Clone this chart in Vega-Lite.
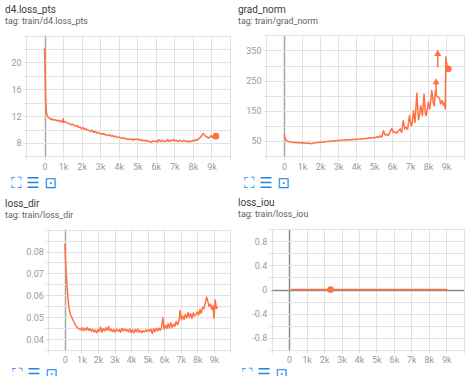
{
  "$schema": "https://vega.github.io/schema/vega-lite/v6.json",
  "background": "white",
  "padding": {"left": 5, "top": 4, "right": 0, "bottom": 0},
  "config": {
    "font": "Roboto",
    "view": {"stroke": null},
    "axis": {"domain": false, "tickColor": "#e2e2e2", "gridColor": "#e2e2e2", "tickSize": 3, "labelColor": "#9a9a9a", "labelFontSize": 9, "labelPadding": 2, "labelOverlap": false, "labelFlush": false},
    "axisX": {"titleFont": "DejaVu Sans", "titleFontSize": 15, "titleColor": "#1e88e5", "titleFontWeight": "normal", "titleAlign": "left", "titleBaseline": "middle", "titleY": 25},
    "title": {"anchor": "start", "frame": "group", "fontSize": 10, "fontWeight": "normal", "color": "#3c3c3c", "subtitleFontSize": 8.8, "subtitleColor": "#616161", "subtitlePadding": 2, "offset": 6, "font": "Roboto", "subtitleFont": "Roboto"},
    "line": {"color": "#ff7043", "strokeWidth": 1.5, "strokeJoin": "round"}
  },
  "datasets": {
    "loss_pts": [
      {"step": 0, "value": 22.2}, {"step": 30, "value": 18.5}, {"step": 60, "value": 14.5}, {"step": 100, "value": 12.6}, {"step": 150, "value": 12.0}, {"step": 200, "value": 11.8}, {"step": 260, "value": 11.7}, {"step": 320, "value": 11.5}, {"step": 400, "value": 11.6}, {"step": 480, "value": 11.4}, {"step": 560, "value": 11.5}, {"step": 640, "value": 11.3}, {"step": 720, "value": 11.4}, {"step": 800, "value": 11.2}, {"step": 880, "value": 11.3}, {"step": 960, "value": 11.1}, {"step": 1000, "value": 11.6}, {"step": 1040, "value": 11.1}, {"step": 1120, "value": 11.2}, {"step": 1200, "value": 11.0}, {"step": 1280, "value": 10.9}, {"step": 1360, "value": 10.9}, {"step": 1440, "value": 10.7}, {"step": 1520, "value": 10.8}, {"step": 1600, "value": 10.6}, {"step": 1680, "value": 10.5}, {"step": 1760, "value": 10.6}, {"step": 1840, "value": 10.3}, {"step": 1920, "value": 10.4}, {"step": 2000, "value": 10.1}, {"step": 2080, "value": 10.3}, {"step": 2160, "value": 10.0}, {"step": 2240, "value": 10.1}, {"step": 2320, "value": 9.9}, {"step": 2400, "value": 9.9}, {"step": 2480, "value": 9.7}, {"step": 2560, "value": 9.9}, {"step": 2640, "value": 9.6}, {"step": 2720, "value": 9.7}, {"step": 2800, "value": 9.5}, {"step": 2880, "value": 9.6}, {"step": 2960, "value": 9.4}, {"step": 3040, "value": 9.4}, {"step": 3120, "value": 9.3}, {"step": 3200, "value": 9.4}, {"step": 3280, "value": 9.2}, {"step": 3360, "value": 9.2}, {"step": 3440, "value": 9.1}, {"step": 3520, "value": 9.2}, {"step": 3600, "value": 9.0}, {"step": 3680, "value": 9.1}, {"step": 3760, "value": 8.9}, {"step": 3840, "value": 9.0}, {"step": 3920, "value": 8.8}, {"step": 4000, "value": 8.9}, {"step": 4080, "value": 8.8}, {"step": 4160, "value": 8.7}, {"step": 4240, "value": 8.8}, {"step": 4320, "value": 8.6}, {"step": 4400, "value": 8.7}, {"step": 4480, "value": 8.5}, {"step": 4560, "value": 8.6}, {"step": 4640, "value": 8.5}, {"step": 4720, "value": 8.6}, {"step": 4800, "value": 8.4}, {"step": 4880, "value": 8.6}, {"step": 4960, "value": 8.5}, {"step": 5040, "value": 8.6}, {"step": 5120, "value": 8.4}, {"step": 5200, "value": 8.5}, {"step": 5280, "value": 8.3}, {"step": 5360, "value": 8.4}, {"step": 5440, "value": 8.3}, {"step": 5520, "value": 8.4}, {"step": 5600, "value": 8.2}, {"step": 5680, "value": 8.2}, {"step": 5760, "value": 8.1}, {"step": 5840, "value": 8.3}, {"step": 5920, "value": 8.2}, {"step": 6000, "value": 8.3}, {"step": 6080, "value": 8.1}, {"step": 6160, "value": 8.5}, {"step": 6240, "value": 8.2}, {"step": 6320, "value": 8.4}, {"step": 6400, "value": 8.2}, {"step": 6480, "value": 8.3}, {"step": 6560, "value": 8.2}, {"step": 6640, "value": 8.5}, {"step": 6720, "value": 8.2}, {"step": 6800, "value": 8.4}, {"step": 6880, "value": 8.3}, {"step": 6960, "value": 8.5}, {"step": 7040, "value": 8.3}, {"step": 7120, "value": 8.4}, {"step": 7200, "value": 8.2}, {"step": 7280, "value": 8.4}, {"step": 7360, "value": 8.3}, {"step": 7440, "value": 8.2}, {"step": 7520, "value": 8.4}, {"step": 7600, "value": 8.2}, {"step": 7680, "value": 8.3}, {"step": 7760, "value": 8.1}, {"step": 7840, "value": 8.3}, {"step": 7920, "value": 8.2}, {"step": 8000, "value": 8.4}, {"step": 8080, "value": 8.3}, {"step": 8160, "value": 8.5}, {"step": 8240, "value": 8.4}, {"step": 8320, "value": 8.7}, {"step": 8400, "value": 8.8}, {"step": 8480, "value": 9.1}, {"step": 8540, "value": 9.4}, {"step": 8600, "value": 9.3}, {"step": 8680, "value": 9.0}, {"step": 8760, "value": 8.9}, {"step": 8840, "value": 8.7}, {"step": 8920, "value": 8.9}, {"step": 8980, "value": 9.1}, {"step": 9050, "value": 8.8}, {"step": 9120, "value": 9.1}, {"step": 9240, "value": 9.0}
    ],
    "loss_pts_end": [{"step": 9240, "value": 9.0}],
    "grad_norm": [
      {"step": 0, "value": 72}, {"step": 40, "value": 63}, {"step": 90, "value": 55}, {"step": 150, "value": 50}, {"step": 250, "value": 48}, {"step": 350, "value": 47}, {"step": 450, "value": 46}, {"step": 550, "value": 45}, {"step": 650, "value": 45}, {"step": 750, "value": 44}, {"step": 850, "value": 44}, {"step": 950, "value": 43}, {"step": 1050, "value": 44}, {"step": 1150, "value": 43}, {"step": 1250, "value": 42}, {"step": 1350, "value": 43}, {"step": 1450, "value": 42}, {"step": 1550, "value": 41}, {"step": 1650, "value": 43}, {"step": 1750, "value": 44}, {"step": 1850, "value": 45}, {"step": 1950, "value": 45}, {"step": 2050, "value": 46}, {"step": 2150, "value": 47}, {"step": 2250, "value": 47}, {"step": 2350, "value": 48}, {"step": 2450, "value": 48}, {"step": 2550, "value": 49}, {"step": 2650, "value": 50}, {"step": 2750, "value": 50}, {"step": 2850, "value": 51}, {"step": 2950, "value": 52}, {"step": 3050, "value": 52}, {"step": 3150, "value": 52}, {"step": 3250, "value": 53}, {"step": 3350, "value": 53}, {"step": 3450, "value": 54}, {"step": 3550, "value": 53}, {"step": 3650, "value": 55}, {"step": 3750, "value": 54}, {"step": 3850, "value": 55}, {"step": 3950, "value": 56}, {"step": 4050, "value": 55}, {"step": 4150, "value": 57}, {"step": 4250, "value": 56}, {"step": 4350, "value": 58}, {"step": 4450, "value": 57}, {"step": 4550, "value": 59}, {"step": 4650, "value": 58}, {"step": 4750, "value": 61}, {"step": 4850, "value": 59}, {"step": 4950, "value": 62}, {"step": 5050, "value": 60}, {"step": 5150, "value": 64}, {"step": 5250, "value": 62}, {"step": 5340, "value": 67}, {"step": 5430, "value": 63}, {"step": 5530, "value": 84}, {"step": 5620, "value": 70}, {"step": 5710, "value": 72}, {"step": 5800, "value": 68}, {"step": 5900, "value": 82}, {"step": 5990, "value": 92}, {"step": 6080, "value": 78}, {"step": 6170, "value": 80}, {"step": 6260, "value": 76}, {"step": 6360, "value": 84}, {"step": 6450, "value": 90}, {"step": 6540, "value": 78}, {"step": 6630, "value": 117}, {"step": 6710, "value": 90}, {"step": 6780, "value": 96}, {"step": 6870, "value": 88}, {"step": 6970, "value": 134}, {"step": 7060, "value": 100}, {"step": 7130, "value": 110}, {"step": 7190, "value": 150}, {"step": 7280, "value": 112}, {"step": 7380, "value": 209}, {"step": 7470, "value": 120}, {"step": 7540, "value": 140}, {"step": 7600, "value": 167}, {"step": 7690, "value": 134}, {"step": 7780, "value": 206}, {"step": 7850, "value": 140}, {"step": 7900, "value": 134}, {"step": 8020, "value": 178}, {"step": 8100, "value": 156}, {"step": 8210, "value": 217}, {"step": 8300, "value": 175}, {"step": 8350, "value": 167}, {"step": 8410, "value": 217}, {"step": 8450, "value": 200}, {"step": 8560, "value": 196}, {"step": 8650, "value": 189}, {"step": 8700, "value": 173}, {"step": 8790, "value": 184}, {"step": 8840, "value": 170}, {"step": 8900, "value": 176}, {"step": 8960, "value": 156}, {"step": 8990, "value": 328}, {"step": 9050, "value": 300}, {"step": 9130, "value": 289}
    ],
    "grad_arrows": [{"step": 8450, "value": 248, "lo": 200}, {"step": 8540, "value": 342, "lo": 294}],
    "grad_end": [{"step": 9130, "value": 289}],
    "loss_dir": [
      {"step": 0, "value": 0.0835}, {"step": 40, "value": 0.076}, {"step": 100, "value": 0.068}, {"step": 160, "value": 0.061}, {"step": 220, "value": 0.056}, {"step": 280, "value": 0.053}, {"step": 350, "value": 0.051}, {"step": 450, "value": 0.0494}, {"step": 550, "value": 0.0478}, {"step": 660, "value": 0.0462}, {"step": 760, "value": 0.0452}, {"step": 860, "value": 0.0446}, {"step": 960, "value": 0.0442}, {"step": 1040, "value": 0.0452}, {"step": 1120, "value": 0.0438}, {"step": 1200, "value": 0.045}, {"step": 1280, "value": 0.0441}, {"step": 1360, "value": 0.0453}, {"step": 1440, "value": 0.044}, {"step": 1520, "value": 0.0447}, {"step": 1600, "value": 0.0436}, {"step": 1680, "value": 0.0445}, {"step": 1760, "value": 0.0432}, {"step": 1840, "value": 0.0441}, {"step": 1920, "value": 0.0429}, {"step": 2000, "value": 0.0444}, {"step": 2080, "value": 0.0435}, {"step": 2160, "value": 0.0455}, {"step": 2240, "value": 0.0431}, {"step": 2320, "value": 0.0447}, {"step": 2400, "value": 0.0437}, {"step": 2480, "value": 0.0452}, {"step": 2560, "value": 0.044}, {"step": 2640, "value": 0.0456}, {"step": 2720, "value": 0.0438}, {"step": 2800, "value": 0.0446}, {"step": 2880, "value": 0.0434}, {"step": 2960, "value": 0.0443}, {"step": 3040, "value": 0.0432}, {"step": 3120, "value": 0.0445}, {"step": 3200, "value": 0.0436}, {"step": 3280, "value": 0.0443}, {"step": 3360, "value": 0.0431}, {"step": 3440, "value": 0.0449}, {"step": 3520, "value": 0.0437}, {"step": 3600, "value": 0.0446}, {"step": 3680, "value": 0.0439}, {"step": 3760, "value": 0.0442}, {"step": 3840, "value": 0.0433}, {"step": 3920, "value": 0.0446}, {"step": 4000, "value": 0.043}, {"step": 4080, "value": 0.0442}, {"step": 4160, "value": 0.0428}, {"step": 4240, "value": 0.0443}, {"step": 4320, "value": 0.0434}, {"step": 4400, "value": 0.0445}, {"step": 4480, "value": 0.0431}, {"step": 4560, "value": 0.044}, {"step": 4640, "value": 0.0429}, {"step": 4720, "value": 0.0438}, {"step": 4800, "value": 0.0432}, {"step": 4880, "value": 0.0441}, {"step": 4960, "value": 0.0435}, {"step": 5040, "value": 0.0443}, {"step": 5120, "value": 0.0436}, {"step": 5200, "value": 0.0445}, {"step": 5280, "value": 0.0425}, {"step": 5360, "value": 0.0447}, {"step": 5440, "value": 0.0433}, {"step": 5520, "value": 0.0448}, {"step": 5600, "value": 0.0438}, {"step": 5680, "value": 0.045}, {"step": 5760, "value": 0.044}, {"step": 5840, "value": 0.0452}, {"step": 5920, "value": 0.0497}, {"step": 6000, "value": 0.0445}, {"step": 6080, "value": 0.0462}, {"step": 6160, "value": 0.0448}, {"step": 6240, "value": 0.047}, {"step": 6320, "value": 0.0451}, {"step": 6400, "value": 0.0475}, {"step": 6480, "value": 0.0453}, {"step": 6560, "value": 0.0468}, {"step": 6640, "value": 0.0458}, {"step": 6720, "value": 0.048}, {"step": 6800, "value": 0.0466}, {"step": 6880, "value": 0.0478}, {"step": 6960, "value": 0.053}, {"step": 7040, "value": 0.0488}, {"step": 7120, "value": 0.0505}, {"step": 7200, "value": 0.049}, {"step": 7280, "value": 0.0512}, {"step": 7360, "value": 0.0496}, {"step": 7440, "value": 0.0522}, {"step": 7520, "value": 0.05}, {"step": 7600, "value": 0.0516}, {"step": 7680, "value": 0.0495}, {"step": 7760, "value": 0.052}, {"step": 7840, "value": 0.0506}, {"step": 7920, "value": 0.0512}, {"step": 8000, "value": 0.0525}, {"step": 8080, "value": 0.051}, {"step": 8160, "value": 0.0535}, {"step": 8240, "value": 0.0518}, {"step": 8320, "value": 0.0545}, {"step": 8400, "value": 0.0538}, {"step": 8480, "value": 0.0565}, {"step": 8560, "value": 0.0592}, {"step": 8640, "value": 0.0572}, {"step": 8720, "value": 0.0548}, {"step": 8800, "value": 0.056}, {"step": 8880, "value": 0.0535}, {"step": 8960, "value": 0.0552}, {"step": 9010, "value": 0.0495}, {"step": 9080, "value": 0.0578}, {"step": 9150, "value": 0.054}, {"step": 9250, "value": 0.0548}
    ],
    "loss_iou": [
      {"step": 100, "value": 0}, {"step": 500, "value": 0}, {"step": 1000, "value": 0}, {"step": 1500, "value": 0}, {"step": 2000, "value": 0}, {"step": 2500, "value": 0}, {"step": 3000, "value": 0}, {"step": 3500, "value": 0}, {"step": 4000, "value": 0}, {"step": 4500, "value": 0}, {"step": 5000, "value": 0}, {"step": 5500, "value": 0}, {"step": 6000, "value": 0}, {"step": 6500, "value": 0}, {"step": 7000, "value": 0}, {"step": 7500, "value": 0}, {"step": 8000, "value": 0}, {"step": 8500, "value": 0}, {"step": 9050, "value": 0}
    ],
    "loss_iou_pt": [{"step": 2370, "value": 0}]
  },
  "spacing": 8,
  "vconcat": [
    {
      "spacing": 7,
      "hconcat": [
        {
          "width": 204, "height": 122,
          "title": {"text": "d4.loss_pts", "subtitle": "tag: train/d4.loss_pts", "dx": -21},
          "encoding": {
            "x": {"field": "step", "type": "quantitative", "scale": {"domain": [-1000, 10000], "nice": false, "zero": false},
              "axis": {"values": [-1000, 0, 1000, 2000, 3000, 4000, 5000, 6000, 7000, 8000, 9000, 10000], "labelExpr": "datum.value < 0 || datum.value > 9000 ? '' : (datum.value == 0 ? '0' : (datum.value / 1000) + 'k')", "gridColor": {"condition": {"test": "datum.value === 0", "value": "#a6a6a6"}, "value": "#e2e2e2"}, "gridWidth": {"condition": {"test": "datum.value === 0", "value": 1.5}, "value": 1}, "title": "⛶   ☰   ⊡", "titleX": -16}},
            "y": {"field": "value", "type": "quantitative", "scale": {"domain": [5.9, 24.1], "nice": false, "zero": false},
              "axis": {"title": null, "values": [6, 8, 10, 12, 14, 16, 18, 20, 22, 24], "labelExpr": "(datum.value % 4 == 0 && datum.value >= 8 && datum.value <= 20) ? format(datum.value, 'd') : ''"}}
          },
          "layer": [
            {"data": {"name": "loss_pts"}, "mark": {"type": "line"}, "encoding": {}},
            {"data": {"name": "loss_pts_end"}, "mark": {"type": "circle", "color": "#ff7043", "size": 45, "opacity": 1}, "encoding": {}}
          ]
        },
        {
          "width": 198, "height": 122,
          "title": {"text": "grad_norm", "subtitle": "tag: train/grad_norm", "dx": -28},
          "encoding": {
            "x": {"field": "step", "type": "quantitative", "scale": {"domain": [-1000, 10000], "nice": false, "zero": false},
              "axis": {"values": [-1000, 0, 1000, 2000, 3000, 4000, 5000, 6000, 7000, 8000, 9000, 10000], "labelExpr": "datum.value < 0 || datum.value > 9000 ? '' : (datum.value == 0 ? '0' : (datum.value / 1000) + 'k')", "gridColor": {"condition": {"test": "datum.value === 0", "value": "#a6a6a6"}, "value": "#e2e2e2"}, "gridWidth": {"condition": {"test": "datum.value === 0", "value": 1.5}, "value": 1}, "title": "⛶   ☰   ⊡", "titleX": -23}},
            "y": {"field": "value", "type": "quantitative", "scale": {"domain": [-3, 401], "nice": false, "zero": false},
              "axis": {"title": null, "values": [0, 50, 100, 150, 200, 250, 300, 350, 400], "labelExpr": "datum.value % 100 == 50 ? format(datum.value, 'd') : ''"}}
          },
          "layer": [
            {"data": {"name": "grad_norm"}, "mark": {"type": "line"}, "encoding": {}},
            {"data": {"name": "grad_arrows"}, "mark": {"type": "rule", "color": "#ff7043", "strokeWidth": 1.5}, "encoding": {"y2": {"field": "lo"}}},
            {"data": {"name": "grad_arrows"}, "mark": {"type": "point", "shape": "triangle-up", "filled": true, "color": "#ff7043", "size": 50, "opacity": 1}, "encoding": {}},
            {"data": {"name": "grad_end"}, "mark": {"type": "circle", "color": "#ff7043", "size": 45, "opacity": 1}, "encoding": {}}
          ]
        }
      ]
    },
    {
      "spacing": 7,
      "hconcat": [
        {
          "width": 204.4, "height": 121,
          "title": {"text": "loss_dir", "subtitle": "tag: train/loss_dir", "dx": -21},
          "encoding": {
            "x": {"field": "step", "type": "quantitative", "scale": {"domain": [-1000, 10000], "nice": false, "zero": false, "range": [22.3, 204.4]},
              "axis": {"values": [-1000, 0, 1000, 2000, 3000, 4000, 5000, 6000, 7000, 8000, 9000, 10000], "labelExpr": "datum.value < 0 || datum.value > 9000 ? '' : (datum.value == 0 ? '0' : (datum.value / 1000) + 'k')", "gridColor": {"condition": {"test": "datum.value === 0", "value": "#a6a6a6"}, "value": "#e2e2e2"}, "gridWidth": {"condition": {"test": "datum.value === 0", "value": 1.5}, "value": 1}, "title": "⛶   ☰   ⊡", "titleX": -15, "titleY": 23}},
            "y": {"field": "value", "type": "quantitative", "scale": {"domain": [0.035, 0.0903], "nice": false, "zero": false},
              "axis": {"title": null, "offset": -22.3, "values": [0.035, 0.04, 0.045, 0.05, 0.055, 0.06, 0.065, 0.07, 0.075, 0.08, 0.085, 0.09], "labelExpr": "(round(datum.value * 1000) % 10 == 0 && datum.value < 0.085) ? format(datum.value, '.2f') : ''"}}
          },
          "layer": [
            {"data": {"name": "loss_dir"}, "mark": {"type": "line"}, "encoding": {}}
          ]
        },
        {
          "width": 197.7, "height": 121,
          "title": {"text": "loss_iou", "subtitle": "tag: train/loss_iou", "dx": -28},
          "encoding": {
            "x": {"field": "step", "type": "quantitative", "scale": {"domain": [-1000, 10000], "nice": false, "zero": false, "range": [5.7, 197.7]},
              "axis": {"values": [-1000, 0, 1000, 2000, 3000, 4000, 5000, 6000, 7000, 8000, 9000, 10000], "labelExpr": "datum.value < 0 || datum.value > 9000 ? '' : (datum.value == 0 ? '0' : (datum.value / 1000) + 'k')", "gridColor": {"condition": {"test": "datum.value === 0", "value": "#8c8c8c"}, "value": "#e2e2e2"}, "gridWidth": {"condition": {"test": "datum.value === 0", "value": 1.5}, "value": 1}, "title": "⛶   ☰   ⊡", "titleX": -25, "titleY": 23}},
            "y": {"field": "value", "type": "quantitative", "scale": {"domain": [-1, 1], "nice": false, "zero": false},
              "axis": {"title": null, "offset": -5.7, "values": [-1, -0.8, -0.6, -0.4, -0.2, 0, 0.2, 0.4, 0.6, 0.8, 1], "gridColor": {"condition": {"test": "datum.value === 0", "value": "#8c8c8c"}, "value": "#e2e2e2"}, "gridWidth": {"condition": {"test": "datum.value === 0", "value": 1.5}, "value": 1}, "labelExpr": "(round(datum.value * 10) % 4 == 0 && abs(datum.value) < 0.9) ? (datum.value == 0 ? '0' : (datum.value < 0 ? '-' : '') + format(abs(datum.value), '.1f')) : ''"}}
          },
          "layer": [
            {"data": {"name": "loss_iou"}, "mark": {"type": "line"}, "encoding": {}},
            {"data": {"name": "loss_iou_pt"}, "mark": {"type": "circle", "color": "#ff7043", "size": 45, "opacity": 1}, "encoding": {}}
          ]
        }
      ]
    }
  ]
}
